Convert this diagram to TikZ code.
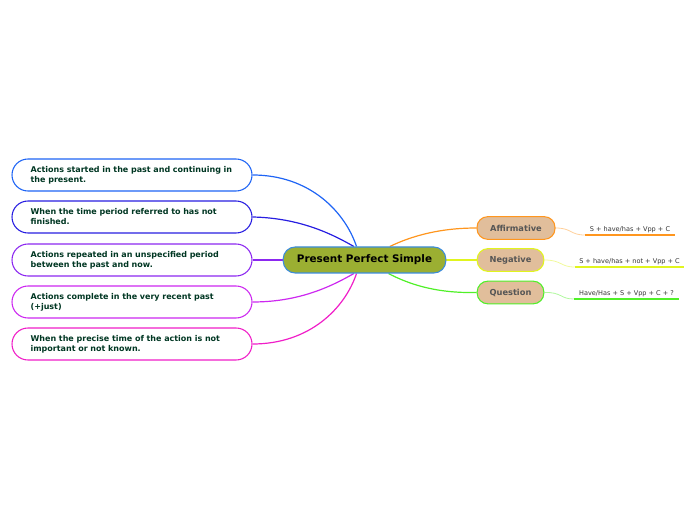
\documentclass[tikz,border=0pt]{standalone}
\usepackage{fontspec}
\setmainfont{DejaVu Sans}
\usetikzlibrary{backgrounds}

\definecolor{useblue}{RGB}{30,100,245}
\definecolor{useindigo}{RGB}{40,30,225}
\definecolor{usepurple}{RGB}{140,40,240}
\definecolor{usemagenta}{RGB}{205,40,240}
\definecolor{usepink}{RGB}{240,30,200}
\definecolor{usetext}{RGB}{0,55,35}
\definecolor{rootfill}{RGB}{155,175,50}
\definecolor{rootline}{RGB}{60,140,220}
\definecolor{formfill}{RGB}{225,190,155}
\definecolor{affline}{RGB}{255,150,30}
\definecolor{negline}{RGB}{225,245,30}
\definecolor{queline}{RGB}{80,240,40}
\definecolor{formtext}{RGB}{85,85,85}

\tikzset{
  usebox/.style={draw=#1, line width=0.8pt, fill=white, rounded corners=12pt,
    minimum width=180pt, minimum height=24pt, inner xsep=14pt,
    text width=152pt, align=left, text=usetext,
    font=\fontsize{6}{7.5}\selectfont\bfseries},
  formbox/.style={draw=#1, line width=0.8pt, fill=formfill, rounded corners=8pt,
    minimum height=17pt, text=formtext, font=\fontsize{6.2}{7}\selectfont\bfseries},
  rule/.style={inner sep=1.5pt, font=\fontsize{4.9}{6}\selectfont, text=black!80},
  link/.style={line width=0.9pt}
}

\begin{document}
\begin{tikzpicture}[x=0.75pt,y=-0.75pt]
  \useasboundingbox (0,0) rectangle (696,520);

  \node[draw=rootline, line width=0.8pt, fill=rootfill, rounded corners=9pt,
    minimum width=122pt, minimum height=19.5pt,
    font=\fontsize{7.8}{9}\selectfont\bfseries] (root) at (364.5,260) {Present Perfect Simple};

  % uses
  \node[usebox=useblue] (use1) at (132,175) {Actions started in the past and continuing in\\the present.};
  \node[usebox=useindigo] (use2) at (132,217) {When the time period referred to has not\\finished.};
  \node[usebox=usepurple] (use3) at (132,260) {Actions repeated in an unspecified period\\between the past and now.};
  \node[usebox=usemagenta] (use4) at (132,302) {Actions complete in the very recent past\\(+just)};
  \node[usebox=usepink] (use5) at (132,344) {When the precise time of the action is not\\important or not known.};

  % forms
  \node[formbox=affline, minimum width=58.5pt] (aff) at (516,228) {Affirmative};
  \node[formbox=negline, minimum width=50pt] (neg) at (510.5,260) {Negative};
  \node[formbox=queline, minimum width=50pt] (que) at (510.5,292.5) {Question};

  \node[rule, anchor=south, minimum width=67.5pt] (affrule) at (630,235) {S + have/has + Vpp + C};
  \node[rule, anchor=south, minimum width=81.75pt] (negrule) at (629.5,267) {S + have/has + not + Vpp + C};
  \node[rule, anchor=south, minimum width=78.75pt] (querule) at (626.5,299) {Have/Has + S + Vpp + C + ?};

  \begin{pgfonlayer}{background}
    \draw[link, useblue] (use1.east) .. controls (310,175) and (345,212) .. ([xshift=-6pt]root.north);
    \draw[link, useindigo] (use2.east) .. controls (300,218) and (332,234) .. ([xshift=-8pt]root.north);
    \draw[link, usepurple] (use3.east) -- (root.west);
    \draw[link, usemagenta] (use4.east) .. controls (300,302) and (332,286) .. ([xshift=-8pt]root.south);
    \draw[link, usepink] (use5.east) .. controls (310,344) and (345,308) .. ([xshift=-6pt]root.south);

    \draw[link, affline] ([xshift=19pt]root.north) .. controls (420,232) and (450,228) .. (aff.west);
    \draw[link, negline] (root.east) -- (neg.west);
    \draw[link, queline] ([xshift=18pt]root.south) .. controls (420,290) and (450,293) .. (que.west);

    \draw[affline!45, line width=0.6pt] (aff.east) .. controls (572,228) and (570,235) .. (affrule.south west);
    \draw[negline!45, line width=0.6pt] (neg.east) .. controls (562,260) and (560,267) .. (negrule.south west);
    \draw[queline!45, line width=0.6pt] (que.east) .. controls (562,292) and (560,299) .. (querule.south west);
  \end{pgfonlayer}

  \draw[affline, line width=1.1pt] (affrule.south west) -- (affrule.south east);
  \draw[negline, line width=1.1pt] (negrule.south west) -- (negrule.south east);
  \draw[queline, line width=1.1pt] (querule.south west) -- (querule.south east);
\end{tikzpicture}
\end{document}
